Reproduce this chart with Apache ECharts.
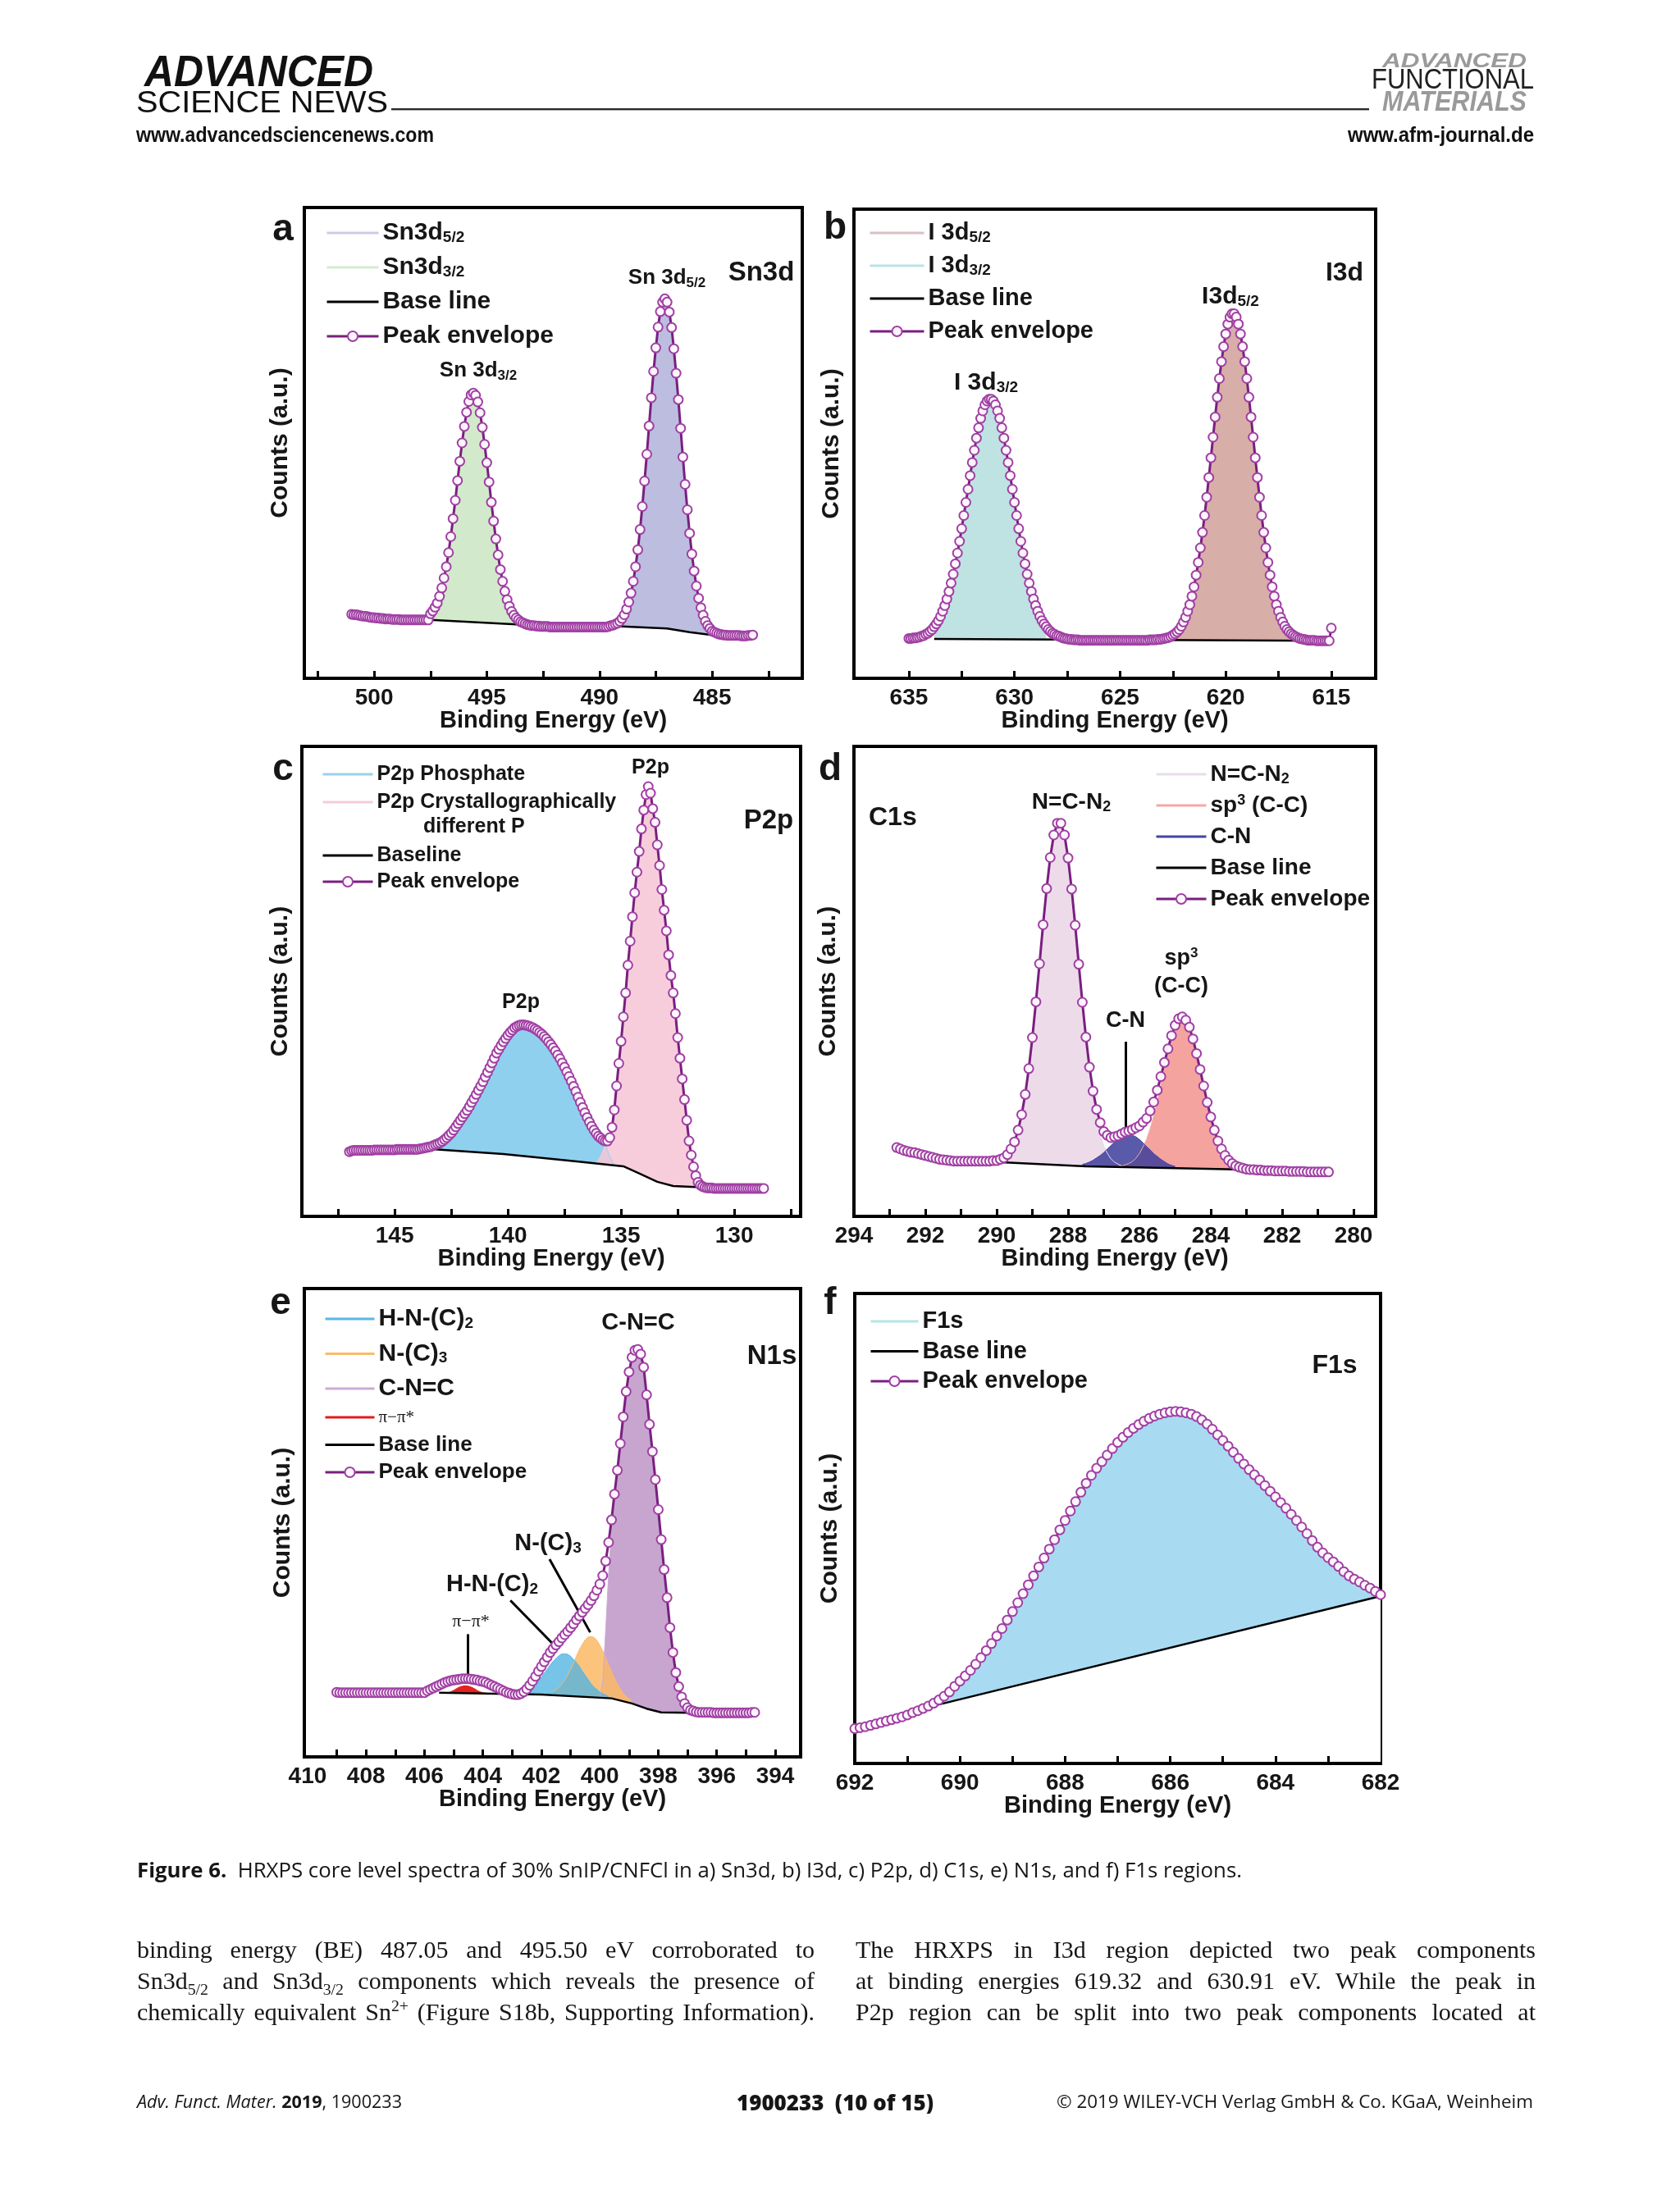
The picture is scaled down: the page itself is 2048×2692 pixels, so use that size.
<!DOCTYPE html>
<html>
<head>
<meta charset="utf-8">
<title>Figure 6 - HRXPS core level spectra</title>
<script src="https://cdn.jsdelivr.net/npm/echarts@6.0.0/dist/echarts.min.js"></script>
<style>
html,body{margin:0;padding:0;background:#fff;}
#page{position:relative;width:2048px;height:2692px;overflow:hidden;background:#fff;}
#chart{position:absolute;left:0;top:0;width:2048px;height:2692px;}
.txt{position:absolute;white-space:nowrap;color:#161616;transform-origin:0 50%;}
.txt sub,.txt sup{font-size:0.66em;line-height:0;}
.rule{position:absolute;left:477px;top:132px;width:1192px;height:2px;background:#2a2a2a;border-bottom:1px solid #b0b0b0;}
</style>
</head>
<body>
<div id="page"><div id="chart"></div><div class="rule"></div></div>
<script>
// ================= DATA =================
// a) Sn3d : envelope sampled every 0.1 eV from 501.0 eV down to 483.2 eV
const aEnergyStart = 501.0, aEnergyStep = 0.1;
const aEnvelope = [
13.6,13.5,13.5,13.4,13.3,13.2,13.2,13.1,13.0,12.9,
12.9,12.8,12.8,12.7,12.7,12.6,12.6,12.6,12.5,12.5,
12.5,12.5,12.4,12.4,12.4,12.4,12.4,12.4,12.4,12.4,
12.4,12.4,12.4,12.4,12.4,
13.7,14.3,15.1,16.0,17.4,19.2,21.3,23.7,26.7,30.1,
33.9,37.8,42.0,46.1,50.0,53.5,56.5,58.8,60.2,60.6,
60.1,58.7,56.4,53.3,49.7,45.8,41.7,37.4,33.4,29.6,
26.2,23.1,20.6,18.5,16.7,15.3,14.2,13.4,12.8,12.4,
12.0,11.8,11.6,
11.4,11.3,11.2,11.2,11.1,11.1,11.0,11.0,11.0,11.0,
10.9,10.9,10.9,10.9,10.9,10.9,10.9,10.9,10.9,10.9,
10.9,10.9,10.9,10.9,10.9,10.9,10.9,10.9,10.9,10.9,
10.9,10.9,10.9,10.9,10.9,10.9,11.0,
11.2,11.3,11.5,11.7,12.1,12.7,13.5,14.7,16.2,18.1,
20.6,23.7,27.3,31.6,36.5,41.9,47.6,53.6,59.6,65.2,
70.2,74.6,77.9,79.9,80.6,79.9,77.8,74.5,70.0,64.8,
59.2,53.1,47.0,41.2,35.8,30.8,26.4,22.8,19.6,17.0,
15.0,13.4,12.1,11.2,10.6,10.0,9.8,9.6,
9.4,9.3,9.2,9.2,9.1,9.1,9.1,9.1,9.1,9.1,9.0,9.0,9.0,9.1,9.1,9.2
];
const aBaseline = [[497.5,12.4],[493.0,11.3],[489.0,11.0],[487.0,10.6],[486.0,9.8],[485.0,9.2],[484.3,9.1]];
const aSn32Range = [497.5, 493.4];
const aSn52Range = [489.5, 484.8];
const aTickLabels = [500,495,490,485];
const aTicks = [502.5,500,497.5,495,492.5,490,487.5,485,482.5];

// b) I3d : envelope every 0.1 eV from 635.0 eV down to 615.0 eV
const bEnergyStart = 635.0, bEnergyStep = 0.1;
const bEnvelope = [
8.5,8.5,8.6,8.6,8.7,8.8,9.0,9.1,9.4,9.6,
10.0,10.4,11.0,11.6,12.3,13.2,14.3,15.5,16.9,18.5,
20.3,22.2,24.4,26.7,29.2,31.9,34.7,37.5,40.3,43.2,
46.0,48.6,51.2,53.4,55.4,57.0,58.3,59.1,59.5,59.5,
59.1,58.3,57.0,55.4,53.4,51.2,48.6,46.0,43.2,40.3,
37.5,34.7,31.9,29.2,26.7,24.4,22.2,20.3,18.5,16.9,
15.5,14.3,13.2,12.3,11.6,11.0,10.4,10.0,9.6,9.4,
9.1,9.0,8.8,8.6,8.5,8.4,
8.3,8.3,8.2,8.2,8.2,8.1,8.1,8.1,8.1,8.1,
8.1,8.1,8.1,8.1,8.1,8.1,8.1,8.1,8.1,8.1,
8.1,8.1,8.1,8.1,8.1,8.1,8.1,8.1,8.1,8.1,
8.1,8.1,8.1,8.1,8.1,8.1,8.1,8.1,8.2,8.2,
8.2,8.2,8.3,8.3,8.4,8.5,
8.6,8.7,8.9,9.2,9.5,9.9,10.4,11.1,12.0,13.0,
14.3,15.7,17.5,19.5,22.0,24.7,27.8,31.1,34.7,38.6,
42.8,47.0,51.4,55.7,59.9,63.9,67.5,70.7,73.4,75.5,
77.0,77.7,77.7,77.0,75.5,73.4,70.7,67.5,63.9,59.9,
55.7,51.4,47.0,42.8,38.6,34.7,31.1,27.8,24.7,22.0,
19.5,17.5,15.7,14.3,13.0,12.0,11.1,10.4,9.9,9.5,
9.2,8.9,8.7,
8.5,8.4,8.3,8.2,
8.1,8.1,8.1,8.1,8.0,8.0,8.0,8.0,8.0,8.0,8.0,
10.7
];
const bBaseline = [[633.8,8.4],[615.2,8.0]];
const bI32Range = [633.8, 628.5];
const bI52Range = [622.3, 617.0];
const bTickLabels = [635,630,625,620,615];
const bTicks = [635,632.5,630,627.5,625,622.5,620,617.5,615];

// c) P2p : envelope every 0.1 eV from 147.0 eV down to 128.7 eV
const cEnergyStart = 147.0, cEnergyStep = 0.1;
const cEnvelope = [
12.0,12.2,12.3,12.3,12.3,12.3,12.3,12.3,12.3,12.3,
12.3,12.4,12.4,12.4,12.4,12.4,12.4,12.4,12.4,12.4,
12.4,12.5,12.5,12.5,12.5,12.5,12.5,12.5,12.5,12.5,
12.5,12.6,12.7,12.8,12.9,
13.0,13.1,13.3,13.5,13.7,13.9,14.2,14.6,15.0,15.5,
16.0,16.6,17.3,18.0,18.7,19.4,20.1,20.8,21.6,22.5,
23.3,24.2,25.1,26.0,26.9,27.9,28.9,29.9,30.9,31.9,
33.0,33.8,34.6,35.4,36.1,36.8,37.4,37.9,38.4,38.7,
38.9,
39.0,39.0,38.9,38.8,38.6,38.4,38.1,37.8,37.4,37.0,
36.5,36.0,35.4,34.8,34.1,33.4,32.6,31.8,30.9,30.0,
29.0,28.0,27.0,25.9,24.8,23.6,22.5,21.4,20.3,19.3,
18.3,17.4,16.6,15.9,15.3,14.9,14.5,14.3,14.3,
15.0,17.2,20.9,26.0,30.8,35.5,40.7,45.8,51.7,56.8,
62.0,67.1,71.5,75.9,80.7,84.7,88.0,
89.7,
88.3,85.0,82.1,77.3,72.9,67.8,63.4,59.0,53.9,49.5,
45.8,41.4,36.3,31.9,27.5,23.1,18.7,14.3,11.3,8.8,
6.9,5.5,4.9,4.6,4.4,
4.3,4.3,4.3,4.2,4.2,4.2,4.2,4.2,4.2,4.2,
4.2,4.2,4.2,4.2,4.2,4.2,4.2,4.2,4.2,4.2,
4.2,4.2,4.2,4.2,4.2,4.2
];
const cBaseline = [[143.5,12.6],[140.2,11.5],[137.05,10.0],[135.5,9.2],[134.9,8.9],[134.2,7.4],[133.4,5.6],[132.7,4.7],[131.7,4.5]];
const cPhosRange = [143.5, 135.8];
const cPhosTailStart = 135.7;
const cPhosTail = [13.6,12.3,11.0,10.0,9.3];
const cCrystHeadStart = 136.1;
const cCrystHead = [9.7,10.3,11.1,12.2,13.5,14.3];
const cCrystRange = [135.5, 131.7];
const cTickLabels = [145,140,135,130];
const cTicks = [147.5,145,142.5,140,137.5,135,132.5,130,127.5];

// d) C1s : envelope every 0.1 eV from 292.8 eV down to 280.7 eV
const dEnergyStart = 292.8, dEnergyStep = 0.1;
const dEnvelope = [
12.9,12.6,12.3,12.1,11.9,11.8,11.6,11.4,11.2,11.0,
10.8,10.6,10.4,10.3,10.2,10.1,10.0,10.0,10.0,10.0,
10.0,10.0,10.0,10.0,10.0,10.0,10.0,10.1,
10.1,10.4,10.7,11.4,12.6,14.1,16.6,19.9,24.2,29.7,
36.3,43.9,52.0,60.3,68.0,74.6,79.4,81.9,81.9,79.4,
74.5,67.9,60.2,51.9,43.8,36.4,30.0,24.9,21.0,18.2,
16.3,15.5,15.0,15.2,15.4,15.8,16.2,16.4,16.7,17.1,
17.5,18.3,19.1,20.7,22.6,25.1,28.0,31.0,33.9,36.7,
38.9,40.3,40.7,40.0,38.5,36.0,32.9,29.5,26.0,22.5,
19.4,16.6,14.3,12.6,11.2,10.2,9.5,9.0,8.7,8.5,
8.3,
8.2,8.2,8.1,8.1,8.0,8.0,8.0,7.9,7.9,7.9,
7.9,7.8,7.8,7.8,7.8,7.8,7.7,7.7,7.7,7.7,
7.7,7.7,7.7
];
const dBaseline = [[290.0,9.8],[287.5,8.9],[283.0,8.2]];
const dNCN2Start = 290.0;
const dNCN2 = [10.1,10.4,10.7,11.4,12.6,14.1,16.6,19.9,24.2,29.7,
36.3,43.9,52.0,60.3,68.0,74.6,79.4,81.9,81.9,79.3,
74.4,67.7,60.0,51.6,43.4,35.8,29.1,23.6,19.2,15.8,
13.3,11.7,10.5,9.8,9.4,9.0];
const dCNStart = 287.6;
const dCN = [9.3,9.5,9.8,10.2,10.7,11.2,11.8,12.6,13.3,14.1,
14.7,15.2,15.5,15.6,15.5,15.2,14.6,13.9,13.1,12.4,
11.6,11.0,10.4,9.9,9.4,9.1,8.9];
const dSp3Start = 286.6;
const dSp3 = [8.9,9.0,9.2,9.5,9.9,10.6,11.6,13.0,14.6,16.9,
19.6,22.7,26.2,29.7,33.0,36.1,38.5,40.0,40.5,40.0,
38.5,36.0,32.9,29.5,26.0,22.5,19.4,16.6,14.3,12.6,
11.2,10.2,9.5,9.0,8.7,8.5,8.3];
const dTickLabels = [294,292,290,288,286,284,282,280];
const dTicks = [293,292,291,290,289,288,287,286,285,284,283,282,281,280];

// e) N1s : envelope every 0.1 eV from 409.0 eV down to 394.7 eV
const eEnergyStart = 409.0, eEnergyStep = 0.1;
const eEnvelope = [
13.8,13.7,13.7,13.7,13.7,13.7,13.7,13.7,13.7,13.7,
13.7,13.7,13.7,13.7,13.7,13.7,13.7,13.7,13.7,13.7,
13.7,13.7,13.7,13.7,13.7,13.7,13.7,13.7,13.7,13.7,
13.7,
14.1,14.4,14.7,15.0,15.3,15.6,15.9,16.1,16.3,16.4,
16.5,16.6,16.7,16.7,16.7,16.6,16.5,16.4,16.2,16.1,
15.9,15.6,15.3,15.0,14.7,14.4,14.1,13.8,13.6,13.4,
13.3,13.3,13.5,13.9,14.5,15.3,16.2,17.2,18.3,19.3,
20.3,21.3,22.3,23.1,23.9,24.6,25.4,26.1,26.8,27.6,
28.4,29.3,30.1,30.9,31.7,32.5,33.4,34.4,35.6,36.9,
38.7,41.8,45.8,50.6,56.1,61.2,66.9,72.6,78.0,82.2,
85.3,86.8,87.0,86.0,83.2,77.3,71.0,65.2,59.2,52.8,
46.4,40.0,34.0,27.6,22.3,18.0,15.0,12.8,11.4,10.5,
10.0,9.8,9.6,9.5,
9.5,9.5,9.5,9.5,9.4,9.4,9.4,9.4,9.4,9.4,
9.4,9.4,9.4,9.4,9.4,9.4,9.4,9.5,9.5
];
const eBaseline = [[405.5,13.7],[402.0,13.3],[399.6,12.5],[398.9,11.4],[398.4,10.3],[397.9,9.5],[396.9,9.4]];
const ePiStart = 405.2;
const ePi = [13.7,13.9,14.2,14.6,14.9,15.1,15.2,15.1,14.9,14.6,14.2,13.9,13.7,13.6];
const eHNC2Start = 402.7;
const eHNC2 = [13.7,13.9,14.2,14.5,15.0,15.5,16.2,17.0,17.9,18.7,
19.6,20.4,21.0,21.6,22.0,22.0,21.9,21.5,20.8,20.1,
19.3,18.3,17.4,16.5,15.6,14.9,14.4,13.8,13.5,13.2,12.9];
const eNC3Start = 401.6;
const eNC3 = [14.0,14.3,14.8,15.6,16.4,17.5,18.7,20.0,21.5,22.9,
24.0,25.0,25.6,25.7,25.5,24.9,23.8,22.6,21.2,19.6,
18.2,16.8,15.6,14.5,13.6,12.9,12.4,11.9];
const eCNCHeadStart = 400.0;
const eCNCHead = [12.6,16.0,27.0,39.0,48.5];
const eCNCRange = [399.5, 396.9];
const eTickLabels = [410,408,406,404,402,400,398,396,394];
const eTicks = [409,408,407,406,405,404,403,402,401,400,399,398,397,396,395,394];

// f) F1s : envelope every 0.1 eV from 692.0 eV down to 682.0 eV
const fEnergyStart = 692.0, fEnergyStep = 0.1;
const fEnvelope = [
2.7,2.9,3.1,3.4,3.7,4.0,4.3,4.6,4.9,5.2,
5.6,6.1,6.5,7.0,7.5,8.1,8.8,9.6,10.5,11.7,
12.8,13.9,15.1,16.4,17.8,19.3,20.8,22.4,24.0,25.8,
27.6,29.5,31.4,33.3,35.2,37.1,39.0,40.9,42.9,45.0,
47.0,49.0,51.0,53.0,54.9,56.6,58.1,59.5,60.9,62.3,
63.6,64.7,65.7,66.6,67.4,68.1,68.7,69.2,69.6,69.9,
70.1,70.2,70.1,69.9,69.6,69.1,68.4,67.5,66.4,65.2,
64.0,62.8,61.5,60.2,59.0,57.8,56.7,55.6,54.4,53.2,
52.0,50.8,49.6,48.3,47.0,45.6,44.2,42.7,41.3,40.1,
39.1,38.2,37.2,36.1,35.2,34.5,33.9,33.2,32.6,31.9,
31.2
];
const fBaseline = [[690.7,7.0],[682.0,30.9]];
const fF1sRange = [690.7, 682.0];
const fTickLabels = [692,690,688,686,684,682];
const fTicks = [691,690,689,688,687,686,685,684,683];

// ================= HELPERS =================
const INK = '#161616';
const FONT = 'Arial, "Liberation Sans", Helvetica, sans-serif';
const SERIF = '"Liberation Serif", "Times New Roman", serif';
const ENV_LINE = '#7a1f80';
const ENV_MARK = '#a03fa3';

function spectrum(start, step, vals) {
  return vals.map((v, i) => [Math.round((start - i * step) * 100) / 100, v]);
}
function cut(pts, hi, lo) {
  return pts.filter(p => p[0] <= hi + 1e-6 && p[0] >= lo - 1e-6);
}
function richFor(fs) {
  const sub = Math.round(fs * 0.64);
  return {
    s: {fontSize: sub, fontWeight: 'bold', fontFamily: FONT, color: INK, verticalAlign: 'bottom', lineHeight: Math.round(sub * 0.45)},
    u: {fontSize: sub, fontWeight: 'bold', fontFamily: FONT, color: INK, verticalAlign: 'top', lineHeight: Math.round(sub * 0.45)},
    pi: {fontSize: Math.round(fs * 0.8), fontWeight: 'normal', fontFamily: SERIF, color: INK}
  };
}

const aPts = spectrum(aEnergyStart, aEnergyStep, aEnvelope);
const bPts = spectrum(bEnergyStart, bEnergyStep, bEnvelope);
const cPts = spectrum(cEnergyStart, cEnergyStep, cEnvelope);
const dPts = spectrum(dEnergyStart, dEnergyStep, dEnvelope);
const ePts = spectrum(eEnergyStart, eEnergyStep, eEnvelope);
const fPts = spectrum(fEnergyStart, fEnergyStep, fEnvelope);

const LEGEND_LABEL = {
  'Sn3d5/2': 'Sn3d{s|5/2}', 'Sn3d3/2': 'Sn3d{s|3/2}',
  'I 3d5/2': 'I 3d{s|5/2}', 'I 3d3/2': 'I 3d{s|3/2}',
  'N=C-N2': 'N=C-N{s|2}', 'sp3 (C-C)': 'sp{u|3} (C-C)',
  'H-N-(C)2': 'H-N-(C){s|2}', 'N-(C)3': 'N-(C){s|3}', 'π−π*': '{pi|π−π*}'
};

const panels = [
  {grid: {left: 371, top: 253, width: 607, height: 574}, x: [481.0, 503.1], y: [0, 100], labels: aTickLabels, ticks: aTicks, yGap: 14},
  {grid: {left: 1041, top: 255, width: 636, height: 572}, x: [612.9, 637.6], y: [0, 100], labels: bTickLabels, ticks: bTicks, yGap: 12},
  {grid: {left: 368, top: 910, width: 608, height: 573}, x: [127.07, 149.1], y: [-1.75, 98.25], labels: cTickLabels, ticks: cTicks, yGap: 11},
  {grid: {left: 1041, top: 910, width: 636, height: 573}, x: [279.38, 294.0], y: [-1.75, 98.25], labels: dTickLabels, ticks: dTicks, yGap: 16},
  {grid: {left: 371, top: 1571, width: 605, height: 571}, x: [393.13, 410.11], y: [0, 100], labels: eTickLabels, ticks: eTicks, yGap: 11},
  {grid: {left: 1042, top: 1577, width: 641, height: 573}, x: [682.0, 692.0], y: [-4.71, 95.29], labels: fTickLabels, ticks: fTicks, yGap: 15}
];

const option = {
  animation: false,
  backgroundColor: '#ffffff',
  textStyle: {fontFamily: FONT},
  grid: [], xAxis: [], yAxis: [], series: [], legend: [], graphic: []
};

panels.forEach((p, i) => {
  option.grid.push(Object.assign({show: true, borderColor: '#000', borderWidth: 4, backgroundColor: 'rgba(0,0,0,0)', containLabel: false, outerBoundsMode: 'none'}, p.grid));
  option.xAxis.push({
    type: 'value', gridIndex: i, inverse: true, min: p.x[0], max: p.x[1], z: 10,
    axisLine: {show: true, onZero: false, lineStyle: {color: '#000', width: 4}},
    axisTick: {show: true, inside: true, length: 9, lineStyle: {color: '#000', width: 3}, customValues: p.ticks},
    axisLabel: {show: true, customValues: p.labels, margin: 10, fontSize: 28, fontWeight: 'bold', fontFamily: FONT, color: INK, formatter: v => String(v)},
    splitLine: {show: false}, minorTick: {show: false},
    name: 'Binding Energy (eV)', nameLocation: 'middle', nameGap: 37, nameMoveOverlap: false,
    nameTextStyle: {fontSize: 29, fontWeight: 'bold', fontFamily: FONT, color: INK}
  });
  option.yAxis.push({
    type: 'value', gridIndex: i, min: p.y[0], max: p.y[1],
    axisLine: {show: false}, axisTick: {show: false}, axisLabel: {show: false}, splitLine: {show: false},
    name: 'Counts (a.u.)', nameLocation: 'middle', nameRotate: 90, nameGap: p.yGap, nameMoveOverlap: false,
    nameTextStyle: {fontSize: 30, fontWeight: 'bold', fontFamily: FONT, color: INK}
  });
});

function addArea(gi, name, pts, fill, line, opacity, z) {
  option.series.push({
    type: 'line', name, xAxisIndex: gi, yAxisIndex: gi, data: pts,
    symbol: 'none', showSymbol: false, silent: true, z: z || 2,
    lineStyle: {color: line, width: 1},
    itemStyle: {color: line},
    areaStyle: {color: fill, opacity: opacity == null ? 1 : opacity, origin: 'start'}
  });
}
function addBase(gi, name, pts, markLine) {
  // white mask below the baseline (slightly wider than the baseline so fill edges never show under it)
  const n = pts.length;
  const mask = [[pts[0][0] + 0.25, pts[0][1]]].concat(pts, [[pts[n - 1][0] - 0.25, pts[n - 1][1]]]);
  option.series.push({
    type: 'line', name: '_mask' + gi, xAxisIndex: gi, yAxisIndex: gi, data: mask,
    symbol: 'none', showSymbol: false, silent: true, z: 3,
    lineStyle: {width: 0, color: '#fff'}, areaStyle: {color: '#fff', opacity: 1, origin: 'start'}
  });
  const s = {
    type: 'line', name, xAxisIndex: gi, yAxisIndex: gi, data: pts,
    symbol: 'none', showSymbol: false, silent: true, z: 4,
    lineStyle: {color: '#000', width: 2.5}, itemStyle: {color: '#000'}
  };
  if (markLine) {
    s.markLine = {
      silent: true, symbol: ['none', 'arrow'], symbolSize: [1, 18],
      lineStyle: {color: '#000', width: 3, type: 'solid'},
      label: {show: false}, emphasis: {disabled: true},
      data: markLine.map(seg => [{coord: seg[0]}, {coord: seg[1]}])
    };
  }
  option.series.push(s);
}
function addEnv(gi, pts) {
  option.series.push({
    type: 'line', name: 'Peak envelope', xAxisIndex: gi, yAxisIndex: gi, data: pts,
    symbol: 'circle', symbolSize: 11, showAllSymbol: true, silent: true, z: 5,
    lineStyle: {color: ENV_LINE, width: 3},
    itemStyle: {color: '#fdf5fd', borderColor: ENV_MARK, borderWidth: 2}
  });
}
function addLegend(names, left, top, gap, fs, iw) {
  option.legend.push({
    orient: 'vertical', left, top, itemGap: gap, itemWidth: iw, itemHeight: 15, padding: 0,
    selectedMode: false,
    textStyle: {fontFamily: FONT, fontSize: fs, fontWeight: 'bold', color: INK, lineHeight: 30, rich: richFor(fs)},
    lineStyle: {width: 3},
    formatter: n => LEGEND_LABEL[n] || n,
    data: names.map(n => n === 'Peak envelope' ? {name: n} : {name: n, itemStyle: {opacity: 0}})
  });
}
function addText(text, x, y, fs, align) {
  option.graphic.push({
    type: 'text', x, y, z: 100, silent: true,
    style: {text, x: 0, y: 0, fill: INK, fontFamily: FONT, fontSize: fs, fontWeight: 'bold',
      align: align || 'center', verticalAlign: 'middle', lineHeight: 30, rich: richFor(fs)}
  });
}

// ---- a) Sn3d
addArea(0, 'Sn3d3/2', cut(aPts, aSn32Range[0], aSn32Range[1]), '#d2eacb', '#d3ecd0');
addArea(0, 'Sn3d5/2', cut(aPts, aSn52Range[0], aSn52Range[1]), '#bcbddf', '#cfc9e6');
addBase(0, 'Base line', aBaseline);
addEnv(0, aPts);
addLegend(['Sn3d5/2', 'Sn3d3/2', 'Base line', 'Peak envelope'], 397, 269, 12, 30, 63);
addText('Sn 3d{s|5/2}', 813, 339, 26);
addText('Sn3d', 928, 333, 33);
addText('Sn 3d{s|3/2}', 583, 452, 26);
addText('a', 345, 280, 46);

// ---- b) I3d
addArea(1, 'I 3d3/2', cut(bPts, bI32Range[0], bI32Range[1]), '#bfe3e2', '#b8e3e3');
addArea(1, 'I 3d5/2', cut(bPts, bI52Range[0], bI52Range[1]), '#d7aea8', '#d9c0c2');
addBase(1, 'Base line', bBaseline);
addEnv(1, bPts);
addLegend(['I 3d5/2', 'I 3d3/2', 'Base line', 'Peak envelope'], 1059, 269, 10, 29, 66);
addText('I 3d{s|3/2}', 1202, 467, 30);
addText('I3d{s|5/2}', 1500, 362, 30);
addText('I3d', 1639, 333, 32);
addText('b', 1018, 278, 46);

// ---- c) P2p
addArea(2, 'P2p Phosphate', cut(cPts, cPhosRange[0], cPhosRange[1]).concat(spectrum(cPhosTailStart, 0.1, cPhosTail)), '#8fd0ee', '#98d2ee');
addArea(2, 'P2p Crystallographically', spectrum(cCrystHeadStart, 0.1, cCrystHead).concat(cut(cPts, cCrystRange[0], cCrystRange[1])), '#f6c6d7', '#f5ccd9', 0.88);
addBase(2, 'Baseline', cBaseline);
addEnv(2, cPts);
addLegend(['P2p Phosphate', 'P2p Crystallographically'], 392, 929, 4, 25, 61);
addLegend(['Baseline', 'Peak envelope'], 392, 1028, 2, 25, 61);
addText('different P', 516, 1008, 25, 'left');
addText('P2p', 793, 936, 25);
addText('P2p', 937, 1001, 33);
addText('P2p', 635, 1222, 25);
addText('c', 345, 938, 46);

// ---- d) C1s
addArea(3, 'N=C-N2', spectrum(dNCN2Start, 0.1, dNCN2), '#eddbea', '#e6dde8');
addArea(3, 'sp3 (C-C)', spectrum(dSp3Start, 0.1, dSp3), '#f4a39f', '#f5a8a8');
addArea(3, 'C-N', spectrum(dCNStart, 0.1, dCN), '#3d3d9b', '#4545a5', 0.85);
addBase(3, 'Base line', dBaseline, [[[286.38, 35.4], [286.38, 16.8]]]);
addEnv(3, dPts);
addLegend(['N=C-N2', 'sp3 (C-C)', 'C-N', 'Base line', 'Peak envelope'], 1408, 929, 8, 28, 61);
addText('N=C-N{s|2}', 1306, 978, 28);
addText('C1s', 1059, 997, 32, 'left');
addText('C-N', 1372, 1245, 27);
addText('sp{u|3}', 1440, 1169, 27);
addText('(C-C)', 1440, 1203, 27);
addText('d', 1012, 938, 46);

// ---- e) N1s
addArea(4, 'C-N=C', spectrum(eCNCHeadStart, 0.1, eCNCHead).concat(cut(ePts, eCNCRange[0], eCNCRange[1])), '#c7a5cf', '#cda9d6');
addArea(4, 'N-(C)3', spectrum(eNC3Start, 0.1, eNC3), '#fbb865', '#f9bb6b', 0.85);
addArea(4, 'H-N-(C)2', spectrum(eHNC2Start, 0.1, eHNC2), '#4fb3e2', '#5bb6e3', 0.78);
addArea(4, 'π−π*', spectrum(ePiStart, 0.1, ePi), '#e3231e', '#e01c1c');
addBase(4, 'Base line', eBaseline, [
  [[404.52, 26.2], [404.52, 17.3]],
  [[403.06, 33.4], [401.62, 24.2]],
  [[401.72, 42.2], [400.33, 26.6]]
]);
addEnv(4, ePts);
addLegend(['H-N-(C)2', 'N-(C)3', 'C-N=C'], 395, 1593, 12.5, 30, 60);
addLegend(['π−π*', 'Base line', 'Peak envelope'], 395, 1713, 3.5, 26, 60);
addText('C-N=C', 778, 1613, 29);
addText('N1s', 941, 1654, 33);
addText('N-(C){s|3}', 668, 1882, 29);
addText('H-N-(C){s|2}', 600, 1932, 29);
addText('{pi|π−π*}', 574, 1977, 27);
addText('e', 342, 1589, 46);

// ---- f) F1s
addArea(5, 'F1s', cut(fPts, fF1sRange[0], fF1sRange[1]), '#a8dbf1', '#b3e6e3');
addBase(5, 'Base line', fBaseline);
addEnv(5, fPts);
addLegend(['F1s', 'Base line', 'Peak envelope'], 1060, 1596, 6.5, 29, 58);
addText('F1s', 1627, 1665, 32);
addText('f', 1012, 1589, 46);

const chart = echarts.init(document.getElementById('chart'), null, {renderer: 'canvas', width: 2048, height: 2692});
chart.setOption(option);

// ================= PAGE TEXT (header, caption, body, footer) =================
const page = document.getElementById('page');
function put(html, x, yc, w, font, extra) {
  const el = document.createElement('div');
  el.className = 'txt';
  el.style.font = font;
  el.innerHTML = html;
  if (extra) Object.assign(el.style, extra);
  page.appendChild(el);
  const r = el.getBoundingClientRect();
  el.style.left = x + 'px';
  el.style.top = (yc - r.height / 2) + 'px';
  if (w) el.style.transform = 'scaleX(' + (w / r.width).toFixed(4) + ')';
  return el;
}
function putJustified(html, x, yc, w, font) {
  const el = document.createElement('div');
  el.className = 'txt';
  el.style.font = font;
  el.innerHTML = html;
  page.appendChild(el);
  const r = el.getBoundingClientRect();
  const n = (el.textContent.match(/ /g) || []).length;
  if (r.width < w && n) el.style.wordSpacing = ((w - r.width) / n).toFixed(2) + 'px';
  else el.style.transform = 'scaleX(' + (w / r.width).toFixed(4) + ')';
  el.style.left = x + 'px';
  el.style.top = (yc - r.height / 2) + 'px';
}
const SANS = '"Liberation Sans", Arial, sans-serif';
const BODY = '"Open Sans", "Noto Sans", sans-serif';
put('ADVANCED', 176, 86, 279, 'italic bold 54px/1.15 ' + SANS, {color: '#111'});
put('SCIENCE NEWS', 166, 125, 307, '36px/1.15 ' + SANS, {color: '#111'});
put('ADVANCED', 1685, 74, 176, 'italic bold 23px/1.15 ' + SANS, {color: '#9a9a9a'});
put('FUNCTIONAL', 1672, 96, 198, '35px/1.15 ' + SANS, {color: '#222'});
put('MATERIALS', 1685, 123, 176, 'italic bold 35px/1.15 ' + SANS, {color: '#9a9a9a'});
put('www.advancedsciencenews.com', 166, 165, 363, 'bold 26px/1.15 ' + SANS, {color: '#111'});
put('www.afm-journal.de', 1643, 165, 227, 'bold 26px/1.15 ' + SANS, {color: '#111'});

put('<b>Figure 6.</b>&nbsp; HRXPS core level spectra of 30% SnIP/CNFCl in a) Sn3d, b) I3d, c) P2p, d) C1s, e) N1s, and f) F1s regions.', 167, 2279, 1347, '25px/1.2 ' + BODY);

const BFONT = '30px/1.2 "Liberation Serif", "Times New Roman", serif';
putJustified('binding energy (BE) 487.05 and 495.50 eV corroborated to', 167, 2377, 826, BFONT);
putJustified('Sn3d<sub>5/2</sub> and Sn3d<sub>3/2</sub> components which reveals the presence of', 167, 2415, 826, BFONT);
putJustified('chemically equivalent Sn<sup>2+</sup> (Figure S18b, Supporting Information).', 167, 2453, 826, BFONT);
putJustified('The HRXPS in I3d region depicted two peak components', 1043, 2377, 829, BFONT);
putJustified('at binding energies 619.32 and 630.91 eV. While the peak in', 1043, 2415, 829, BFONT);
putJustified('P2p region can be split into two peak components located at', 1043, 2453, 829, BFONT);

put('<i>Adv. Funct. Mater.</i> <b>2019</b>, 1900233', 167, 2563, 323, '21px/1.2 ' + BODY);
put('<b>1900233&nbsp;&nbsp;(10 of 15)</b>', 898, 2563, 240, 'bold 27px/1.2 ' + BODY);
put('© 2019 WILEY-VCH Verlag GmbH &amp; Co. KGaA, Weinheim', 1288, 2563, 581, '21px/1.2 ' + BODY);
</script>
</body>
</html>
